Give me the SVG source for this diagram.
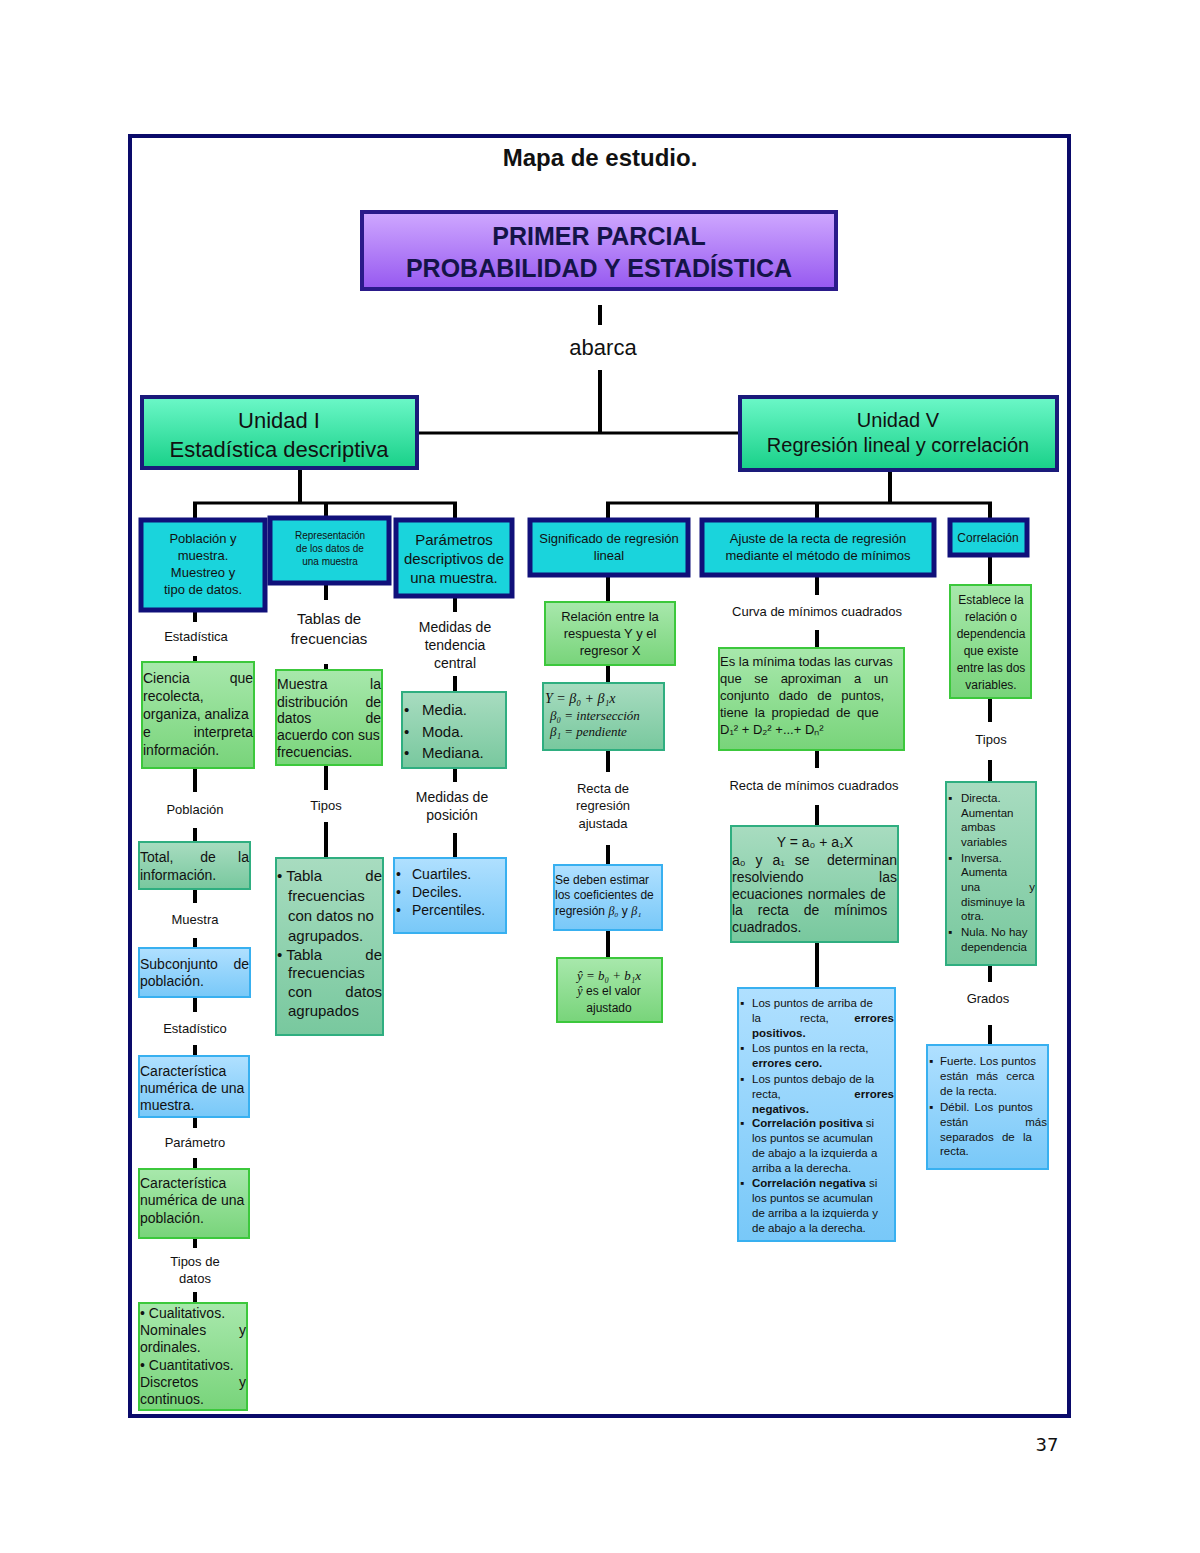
<svg xmlns="http://www.w3.org/2000/svg" width="1200" height="1553" viewBox="0 0 1200 1553">
<defs>
<linearGradient id="gp" x1="0" y1="0" x2="0" y2="1"><stop offset="0" stop-color="#cfa8ff"/><stop offset="1" stop-color="#9658f0"/></linearGradient>
<linearGradient id="gu" x1="0" y1="0" x2="0" y2="1"><stop offset="0" stop-color="#6cf8c8"/><stop offset="1" stop-color="#18d088"/></linearGradient>
<linearGradient id="gg" x1="0" y1="0" x2="0" y2="1"><stop offset="0" stop-color="#a8e8ac"/><stop offset="1" stop-color="#78d47a"/></linearGradient>
<linearGradient id="gt" x1="0" y1="0" x2="0" y2="1"><stop offset="0" stop-color="#a8dcc0"/><stop offset="1" stop-color="#78c89e"/></linearGradient>
<linearGradient id="gb" x1="0" y1="0" x2="0" y2="1"><stop offset="0" stop-color="#b0e0ff"/><stop offset="1" stop-color="#78c8f8"/></linearGradient>
</defs>
<style>
text{font-family:"Liberation Sans",Arial,sans-serif;fill:#111}
.c{text-anchor:middle}
.r{text-anchor:end}
.cy{fill:#1ad4dc;stroke:#10107a;stroke-width:5}
.g{fill:url(#gg);stroke:#3cc83c;stroke-width:2}
.t{fill:url(#gt);stroke:#2fae80;stroke-width:2}
.b{fill:url(#gb);stroke:#38b0f0;stroke-width:2}
.ln line{stroke:#000;stroke-width:4}
.f13{font-size:13px}.f14{font-size:14px}.f15{font-size:15px}.f12{font-size:12px}.f11{font-size:11.5px}
.it{font-family:"Liberation Serif",serif;font-style:italic}
.bd{font-weight:bold}
</style>
<rect x="130" y="136" width="939" height="1280" fill="#fff" stroke="#0a0a6a" stroke-width="4"/>
<text x="600" y="166" class="c bd" font-size="24">Mapa de estudio.</text>

<g class="ln" id="connectors">
<line x1="600" y1="305" x2="600" y2="325"/>
<line x1="600" y1="370" x2="600" y2="433"/>
<line x1="418" y1="433" x2="740" y2="433" style="stroke-width:3"/>
<line x1="300" y1="468" x2="300" y2="503"/>
<line x1="193" y1="503" x2="457" y2="503" style="stroke-width:3"/>
<line x1="195" y1="503" x2="195" y2="520"/><line x1="326" y1="503" x2="326" y2="518"/><line x1="455" y1="503" x2="455" y2="520"/>
<line x1="890" y1="470" x2="890" y2="503"/>
<line x1="606" y1="503" x2="992" y2="503" style="stroke-width:3"/>
<line x1="608" y1="503" x2="608" y2="520"/><line x1="817" y1="503" x2="817" y2="520"/><line x1="990" y1="503" x2="990" y2="520"/>
<line x1="195" y1="610" x2="195" y2="622"/><line x1="195" y1="656" x2="195" y2="662"/>
<line x1="195" y1="768" x2="195" y2="792"/><line x1="195" y1="828" x2="195" y2="842"/>
<line x1="195" y1="889" x2="195" y2="903"/><line x1="195" y1="938" x2="195" y2="948"/>
<line x1="195" y1="997" x2="195" y2="1012"/><line x1="195" y1="1045" x2="195" y2="1056"/>
<line x1="195" y1="1117" x2="195" y2="1128"/><line x1="195" y1="1158" x2="195" y2="1169"/>
<line x1="195" y1="1238" x2="195" y2="1248"/><line x1="195" y1="1292" x2="195" y2="1303"/>
<line x1="326" y1="583" x2="326" y2="600"/><line x1="326" y1="664" x2="326" y2="670"/>
<line x1="326" y1="765" x2="326" y2="790"/><line x1="326" y1="822" x2="326" y2="858"/>
<line x1="455" y1="596" x2="455" y2="612"/><line x1="455" y1="676" x2="455" y2="692"/>
<line x1="455" y1="768" x2="455" y2="782"/><line x1="455" y1="833" x2="455" y2="858"/>
<line x1="608" y1="575" x2="608" y2="602"/><line x1="608" y1="665" x2="608" y2="683"/>
<line x1="608" y1="750" x2="608" y2="772"/><line x1="608" y1="845" x2="608" y2="865"/>
<line x1="608" y1="930" x2="608" y2="958"/>
<line x1="817" y1="575" x2="817" y2="595"/><line x1="817" y1="630" x2="817" y2="648"/>
<line x1="817" y1="750" x2="817" y2="768"/><line x1="817" y1="805" x2="817" y2="826"/>
<line x1="817" y1="942" x2="817" y2="988"/>
<line x1="990" y1="555" x2="990" y2="585"/><line x1="990" y1="698" x2="990" y2="722"/>
<line x1="990" y1="760" x2="990" y2="782"/><line x1="990" y1="965" x2="990" y2="982"/>
<line x1="990" y1="1025" x2="990" y2="1045"/>
</g>

<g id="top"><rect x="362" y="212" width="474" height="77" fill="url(#gp)" stroke="#2a1a8a" stroke-width="4"/>
<text x="599" y="245" class="c bd" font-size="25" style="fill:#141448">PRIMER PARCIAL</text>
<text x="599" y="277" class="c bd" font-size="25" style="fill:#141448">PROBABILIDAD Y ESTADÍSTICA</text></g>
<text x="603" y="355" class="c" font-size="22">abarca</text>

<g id="u1"><rect x="142" y="397" width="275" height="71" fill="url(#gu)" stroke="#1a1a7a" stroke-width="4"/>
<text x="279" y="428" class="c" font-size="22">Unidad I</text><text x="279" y="457" class="c" font-size="22">Estadística descriptiva</text></g>
<g id="u5"><rect x="740" y="397" width="317" height="73" fill="url(#gu)" stroke="#1a1a7a" stroke-width="4"/>
<text x="898" y="427" class="c" font-size="20">Unidad V</text><text x="898" y="452" class="c" font-size="20">Regresión lineal y correlación</text></g>

<g id="a"><rect x="141" y="520" width="124" height="90" class="cy"/>
<text class="c f13" x="203" y="543">Población y</text><text class="c f13" x="203" y="560">muestra.</text><text class="c f13" x="203" y="577">Muestreo y</text><text class="c f13" x="203" y="594">tipo de datos.</text></g>
<g id="bb"><rect x="270" y="518" width="119" height="65" class="cy"/>
<text class="c" font-size="10" x="330" y="539">Representación</text><text class="c" font-size="10" x="330" y="552">de los datos de</text><text class="c" font-size="10" x="330" y="565">una muestra</text></g>
<g id="cc"><rect x="396" y="520" width="116" height="76" class="cy"/>
<text class="c f15" x="454" y="545">Parámetros</text><text class="c f15" x="454" y="564">descriptivos de</text><text class="c f15" x="454" y="583">una muestra.</text></g>
<g id="d"><rect x="530" y="520" width="158" height="55" class="cy"/>
<text class="c f13" x="609" y="543">Significado de regresión</text><text class="c f13" x="609" y="560">lineal</text></g>
<g id="e"><rect x="702" y="520" width="232" height="55" class="cy"/>
<text class="c f13" x="818" y="543">Ajuste de la recta de regresión</text><text class="c f13" x="818" y="560">mediante el método de mínimos</text></g>
<g id="f"><rect x="950" y="520" width="77" height="35" class="cy"/>
<text class="c f12" x="988" y="542">Correlación</text></g>

<!-- column A -->
<text class="c f13" x="196" y="641">Estadística</text>
<g id="a1"><rect x="142" y="662" width="112" height="106" class="g"/>
<text class="f14" x="143" y="683">Ciencia</text><text class="f14 r" x="253" y="683">que</text><text class="f14" x="143" y="701">recolecta,</text><text class="f14" x="143" y="719">organiza, analiza</text><text class="f14" x="143" y="737">e</text><text class="f14 r" x="253" y="737">interpreta</text><text class="f14" x="143" y="755">información.</text></g>
<text class="c f13" x="195" y="814">Población</text>
<g id="a2"><rect x="139" y="842" width="111" height="47" class="t"/>
<text class="f14" x="140" y="862">Total,</text><text class="f14 c" x="208" y="862">de</text><text class="f14 r" x="249" y="862">la</text><text class="f14" x="140" y="880">información.</text></g>
<text class="c f13" x="195" y="924">Muestra</text>
<g id="a3"><rect x="139" y="948" width="111" height="49" class="b"/>
<text class="f14" x="140" y="969">Subconjunto</text><text class="f14 r" x="249" y="969">de</text><text class="f14" x="140" y="986">población.</text></g>
<text class="c f13" x="195" y="1033">Estadístico</text>
<g id="a4"><rect x="139" y="1056" width="110" height="61" class="b"/>
<text class="f14" x="140" y="1076">Característica</text><text class="f14" x="140" y="1093">numérica de una</text><text class="f14" x="140" y="1110">muestra.</text></g>
<text class="c f13" x="195" y="1147">Parámetro</text>
<g id="a5"><rect x="139" y="1169" width="110" height="69" class="g"/>
<text class="f14" x="140" y="1188">Característica</text><text class="f14" x="140" y="1205">numérica de una</text><text class="f14" x="140" y="1223">población.</text></g>
<text class="c f13" x="195" y="1266">Tipos de</text><text class="c f13" x="195" y="1283">datos</text>
<g id="a6"><rect x="139" y="1303" width="108" height="107" class="g"/>
<text class="f14" x="140" y="1318">•  Cualitativos.</text><text class="f14" x="140" y="1335">Nominales</text><text class="f14 r" x="246" y="1335">y</text><text class="f14" x="140" y="1352">ordinales.</text><text class="f14" x="140" y="1370">•  Cuantitativos.</text><text class="f14" x="140" y="1387">Discretos</text><text class="f14 r" x="246" y="1387">y</text><text class="f14" x="140" y="1404">continuos.</text></g>

<!-- column B -->
<text class="c f15" x="329" y="624">Tablas de</text><text class="c f15" x="329" y="644">frecuencias</text>
<g id="b1"><rect x="276" y="670" width="106" height="95" class="g"/>
<text class="f14" x="277" y="689">Muestra</text><text class="f14 r" x="381" y="689">la</text><text class="f14" x="277" y="707">distribución</text><text class="f14 r" x="381" y="707">de</text><text class="f14" x="277" y="723">datos</text><text class="f14 r" x="381" y="723">de</text><text class="f14" x="277" y="740">acuerdo con sus</text><text class="f14" x="277" y="757">frecuencias.</text></g>
<text class="c f13" x="326" y="810">Tipos</text>
<g id="b2"><rect x="276" y="858" width="107" height="177" class="t"/>
<text class="f15" x="277" y="881">• Tabla</text><text class="f15 r" x="382" y="881">de</text><text class="f15" x="288" y="901">frecuencias</text><text class="f15" x="288" y="921">con datos no</text><text class="f15" x="288" y="941">agrupados.</text><text class="f15" x="277" y="960">• Tabla</text><text class="f15 r" x="382" y="960">de</text><text class="f15" x="288" y="978">frecuencias</text><text class="f15" x="288" y="997">con</text><text class="f15 r" x="382" y="997">datos</text><text class="f15" x="288" y="1016">agrupados</text></g>

<!-- column C -->
<text class="c f14" x="455" y="632">Medidas de</text><text class="c f14" x="455" y="650">tendencia</text><text class="c f14" x="455" y="668">central</text>
<g id="c1"><rect x="402" y="692" width="104" height="76" class="t"/>
<text class="f15" x="404" y="715">•</text><text class="f15" x="422" y="715">Media.</text><text class="f15" x="404" y="737">•</text><text class="f15" x="422" y="737">Moda.</text><text class="f15" x="404" y="758">•</text><text class="f15" x="422" y="758">Mediana.</text></g>
<text class="c f14" x="452" y="802">Medidas de</text><text class="c f14" x="452" y="820">posición</text>
<g id="c2"><rect x="394" y="858" width="112" height="75" class="b"/>
<text class="f14" x="396" y="879">•</text><text class="f14" x="412" y="879">Cuartiles.</text><text class="f14" x="396" y="897">•</text><text class="f14" x="412" y="897">Deciles.</text><text class="f14" x="396" y="915">•</text><text class="f14" x="412" y="915">Percentiles.</text></g>

<!-- column D -->
<g id="d1"><rect x="545" y="602" width="130" height="63" class="g"/>
<text class="c f13" x="610" y="621">Relación entre la</text><text class="c f13" x="610" y="638">respuesta Y y el</text><text class="c f13" x="610" y="655">regresor X</text></g>
<g id="d2"><rect x="543" y="683" width="121" height="67" class="t"/>
<text class="it f14" x="545" y="703">Y = β₀ + β₁x</text><text class="it f13" x="550" y="720">β₀ = intersección</text><text class="it f13" x="550" y="736">β₁ = pendiente</text></g>
<text class="c f13" x="603" y="793">Recta de</text><text class="c f13" x="603" y="810">regresión</text><text class="c f13" x="603" y="828">ajustada</text>
<g id="d3"><rect x="554" y="865" width="108" height="65" class="b"/>
<text class="f12" x="555" y="884">Se deben estimar</text><text class="f12" x="555" y="899">los coeficientes de</text><text class="f12" x="555" y="915">regresión <tspan class="it">β₀</tspan> y <tspan class="it">β₁</tspan></text></g>
<g id="d4"><rect x="557" y="958" width="105" height="64" class="g"/>
<text class="c f13" x="609" y="980"><tspan class="it">ŷ = b₀ + b₁x</tspan></text><text class="c f12" x="609" y="995"><tspan class="it">ŷ</tspan> es el valor</text><text class="c f12" x="609" y="1012">ajustado</text></g>

<!-- column E -->
<text class="c f13" x="817" y="616">Curva de mínimos cuadrados</text>
<g id="e1"><rect x="719" y="648" width="185" height="102" class="g"/>
<text class="f13" x="720" y="666">Es la mínima todas las curvas</text><text class="f13" x="720" y="683" word-spacing="9">que se aproximan a un</text><text class="f13" x="720" y="700" word-spacing="6">conjunto dado de puntos,</text><text class="f13" x="720" y="717" word-spacing="3">tiene la propiedad de que</text><text class="f13" x="720" y="734">D₁² + D₂² +...+ Dₙ²</text></g>
<text class="c f13" x="814" y="790">Recta de mínimos cuadrados</text>
<g id="e2"><rect x="731" y="826" width="167" height="116" class="t"/>
<text class="c f14" x="815" y="847">Y = a₀ + a₁X</text><text class="f14" x="732" y="865" word-spacing="6">a₀ y a₁ se</text><text class="f14 r" x="897" y="865">determinan</text><text class="f14" x="732" y="882">resolviendo</text><text class="f14 r" x="897" y="882">las</text><text class="f14" x="732" y="899" word-spacing="1">ecuaciones normales de</text><text class="f14" x="732" y="915" word-spacing="11">la recta de mínimos</text><text class="f14" x="732" y="932">cuadrados.</text></g>
<g id="e3"><rect x="738" y="988" width="157" height="253" class="b"/>
<g class="f11">
<text x="740" y="1007">▪</text><text x="752" y="1007">Los puntos de arriba de</text>
<text x="752" y="1022">la</text><text x="800" y="1022">recta,</text><text x="894" y="1022" class="r bd">errores</text>
<text x="752" y="1037" class="bd">positivos.</text>
<text x="740" y="1052">▪</text><text x="752" y="1052">Los puntos en la recta,</text>
<text x="752" y="1067" class="bd">errores cero.</text>
<text x="740" y="1083">▪</text><text x="752" y="1083">Los puntos debajo de la</text>
<text x="752" y="1098">recta,</text><text x="894" y="1098" class="r bd">errores</text>
<text x="752" y="1113" class="bd">negativos.</text>
<text x="740" y="1127">▪</text><text x="752" y="1127"><tspan class="bd">Correlación positiva</tspan> si</text>
<text x="752" y="1142">los puntos se acumulan</text>
<text x="752" y="1157">de abajo a la izquierda a</text>
<text x="752" y="1172">arriba a la derecha.</text>
<text x="740" y="1187">▪</text><text x="752" y="1187"><tspan class="bd">Correlación negativa</tspan> si</text>
<text x="752" y="1202">los puntos se acumulan</text>
<text x="752" y="1217">de arriba a la izquierda y</text>
<text x="752" y="1232">de abajo a la derecha.</text>
</g></g>

<!-- column F -->
<g id="f1"><rect x="950" y="585" width="81" height="113" class="g"/>
<text class="c f12" x="991" y="604">Establece la</text><text class="c f12" x="991" y="621">relación o</text><text class="c f12" x="991" y="638">dependencia</text><text class="c f12" x="991" y="655">que existe</text><text class="c f12" x="991" y="672">entre las dos</text><text class="c f12" x="991" y="689">variables.</text></g>
<text class="c f13" x="991" y="744">Tipos</text>
<g id="f2"><rect x="946" y="782" width="90" height="183" class="t"/>
<g class="f11">
<text x="948" y="802">▪</text><text x="961" y="802">Directa.</text><text x="961" y="817">Aumentan</text><text x="961" y="831">ambas</text><text x="961" y="846">variables</text>
<text x="948" y="862">▪</text><text x="961" y="862">Inversa.</text><text x="961" y="876">Aumenta</text><text x="961" y="891">una</text><text x="1035" y="891" class="r">y</text><text x="961" y="906">disminuye la</text><text x="961" y="920">otra.</text>
<text x="948" y="936">▪</text><text x="961" y="936">Nula. No hay</text><text x="961" y="951">dependencia</text>
</g></g>
<text class="c f13" x="988" y="1003">Grados</text>
<g id="f3"><rect x="927" y="1045" width="121" height="124" class="b"/>
<g class="f11">
<text x="929" y="1065">▪</text><text x="940" y="1065">Fuerte. Los puntos</text><text x="940" y="1080" word-spacing="5">están más cerca</text><text x="940" y="1095">de la recta.</text>
<text x="929" y="1111">▪</text><text x="940" y="1111" word-spacing="2">Débil. Los puntos</text><text x="940" y="1126">están</text><text x="1047" y="1126" class="r">más</text><text x="940" y="1141" word-spacing="5">separados de la</text><text x="940" y="1155">recta.</text>
</g></g>

<text x="1047" y="1451" class="c" font-size="18" style="font-family:'DejaVu Sans',sans-serif">37</text>
</svg>
